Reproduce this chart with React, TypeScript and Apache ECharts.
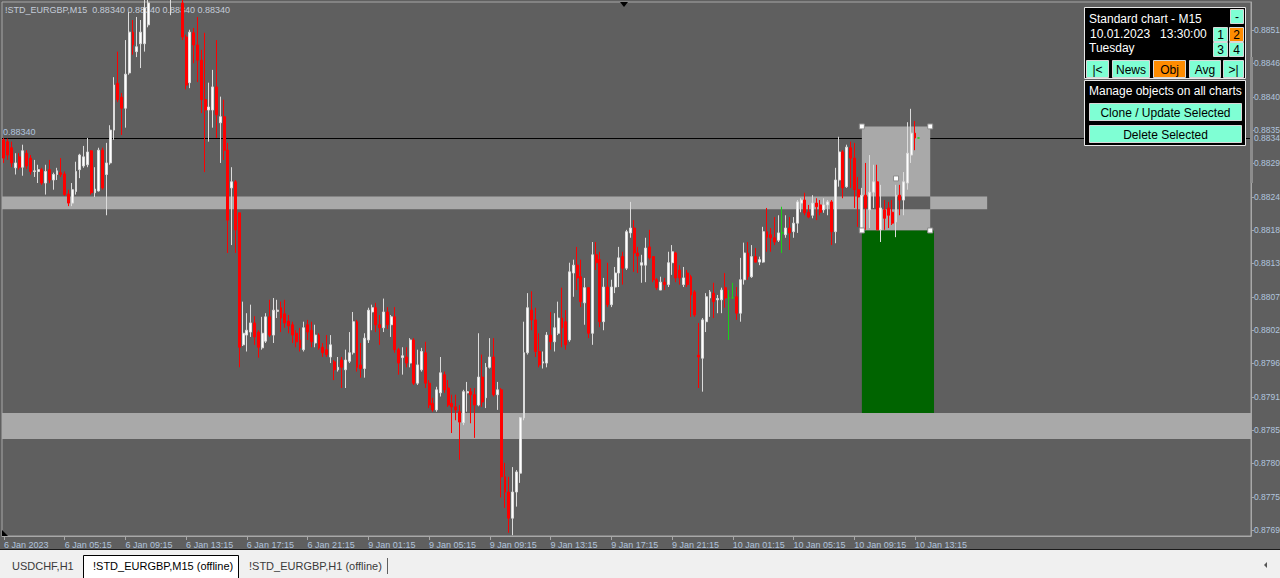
import React, { useEffect, useRef } from "react";
import * as echarts from "echarts";

// ---- data: prices x 100000 ----
const OPEN = [
  88337,88334,88324,88291,88309,88292,88315,88307,88285,88285,
  88288,88266,88288,88271,88280,88283,88281,88248,88233,88252,
  88288,88294,88296,88319,88250,88253,88320,88280,88299,88353,
  88430,88407,88389,88447,88514,88482,88495,88495,88526,88570,
  88600,88630,88610,88590,88575,88600,88580,88562,88506,88431,
  88513,88493,88468,88403,88386,88386,88424,88365,88375,88320,
  88258,88268,88217,88000,88016,88021,88036,88021,87995,88006,
  88046,88016,88055,88061,88051,88039,88033,88019,88008,87992,
  88033,88024,88003,88016,87996,87992,87980,87972,87959,87975,
  87959,87973,87987,88038,87967,87961,88008,88054,88061,88033,
  88028,88054,88033,88046,87992,87979,87980,87970,88008,87937,
  87959,87987,87937,87904,87893,87921,87951,87929,87904,87898,
  87890,87872,87921,87923,87918,87901,87947,87913,87963,87980,
  87918,87926,87783,87758,87715,87758,87789,87880,87987,88057,
  88041,87989,87970,87970,88016,88005,88019,88044,88038,88008,
  88118,88131,88112,88069,88094,88019,88148,88140,88038,88095,
  88066,88095,88118,88145,88126,88184,88192,88151,88131,88131,
  88161,88145,88107,88090,88103,88099,88135,88151,88123,88099,
  88118,88112,88087,87983,87978,88038,88077,88085,88074,88074,
  88094,88077,88077,88079,88052,88107,88151,88112,88145,88136,
  88136,88186,88181,88176,88172,88184,88181,88192,88186,88200,
  88233,88238,88218,88213,88233,88230,88222,88230,88235,88186,
  88271,88317,88260,88324,88307,88255,88192,88246,88222,88251,
  88268,88189,88222,88225,88218,88202,88246,88238,88266,88312,
  88348,88340,
];
const HIGH = [
  88340,88339,88334,88315,88315,88329,88320,88312,88304,88296,
  88291,88296,88304,88283,88291,88307,88285,88255,88266,88301,
  88314,88327,88340,88320,88292,88324,88324,88332,88361,88440,
  88482,88414,88501,88547,88534,88539,88534,88570,88585,88610,
  88640,88650,88625,88620,88620,88615,88600,88575,88510,88518,
  88521,88539,88485,88513,88431,88452,88501,88408,88403,88332,
  88292,88271,88217,88071,88052,88066,88047,88024,88046,88052,
  88074,88077,88074,88071,88074,88049,88038,88024,88028,88038,
  88041,88038,88033,88019,88003,88016,88016,87975,87980,87980,
  87992,88021,88054,88041,88003,88019,88061,88066,88069,88049,
  88076,88062,88049,88062,87995,87996,87996,88011,88011,87992,
  87995,88005,87942,87913,87931,87980,87956,87942,87918,87918,
  87901,87926,87939,87929,87929,88019,87984,87970,88011,88011,
  87939,87929,87806,87783,87799,87794,87881,88038,88085,88088,
  88061,88019,87989,88021,88054,88052,88071,88094,88057,88135,
  88140,88161,88140,88110,88095,88169,88169,88153,88110,88135,
  88107,88128,88161,88153,88189,88235,88205,88161,88148,88176,
  88189,88145,88110,88112,88110,88153,88164,88153,88131,88128,
  88123,88115,88090,88036,88044,88085,88090,88102,88082,88094,
  88118,88090,88102,88095,88143,88168,88169,88164,88159,88145,
  88194,88225,88192,88210,88213,88227,88213,88210,88210,88238,
  88241,88250,88230,88246,88241,88238,88241,88238,88238,88291,
  88342,88320,88329,88334,88332,88276,88258,88299,88312,88296,
  88296,88263,88238,88235,88238,88263,88263,88284,88366,88388,
  88368,88340,
];
const LOW = [
  88299,88304,88292,88280,88288,88278,88289,88280,88276,88266,
  88263,88247,88266,88255,88271,88276,88245,88228,88228,88247,
  88274,88291,88292,88247,88243,88252,88255,88213,88296,88337,
  88399,88345,88357,88444,88477,88473,88455,88482,88522,88568,
  88590,88600,88580,88575,88542,88570,88568,88501,88420,88422,
  88463,88432,88381,88284,88334,88357,88340,88299,88304,88151,
  88164,88151,87963,87998,87989,88013,88000,87979,87992,88003,
  88013,88003,88044,88021,88028,88019,88003,87996,87989,87989,
  88008,87996,87996,87992,87980,87980,87970,87942,87956,87929,
  87929,87970,87984,87956,87946,87946,88003,88024,88021,88000,
  88021,88026,88013,87987,87951,87951,87963,87963,87934,87934,
  87956,87929,87896,87890,87890,87915,87921,87898,87855,87876,
  87811,87868,87890,87871,87847,87899,87898,87896,87961,87915,
  87893,87749,87732,87691,87687,87734,87773,87876,87984,88024,
  87980,87963,87961,87963,87992,87989,88016,87996,87992,88005,
  88079,88090,88062,88033,88011,88000,88123,88029,88024,88062,
  88062,88085,88095,88099,88123,88176,88120,88118,88102,88103,
  88140,88103,88090,88090,88090,88095,88115,88103,88099,88095,
  88095,88046,88046,87929,87923,88021,88046,88044,88052,88052,
  88061,88008,88077,88041,88038,88099,88107,88110,88135,88131,
  88135,88153,88153,88164,88169,88151,88176,88156,88176,88184,
  88218,88213,88208,88208,88205,88213,88217,88213,88164,88167,
  88260,88241,88258,88258,88225,88194,88189,88189,88192,88225,
  88189,88169,88189,88192,88197,88177,88213,88213,88255,88299,
  88320,88340,
];
const CLOSE = [
  88307,88312,88299,88299,88292,88319,88294,88285,88286,88288,
  88266,88285,88271,88280,88286,88280,88247,88233,88255,88285,
  88312,88309,88317,88250,88256,88320,88258,88299,88353,88427,
  88403,88389,88445,88514,88493,88490,88514,88554,88562,88600,
  88630,88610,88590,88600,88600,88580,88575,88506,88427,88514,
  88493,88468,88403,88386,88391,88424,88378,88375,88320,88205,
  88268,88189,87996,88019,88024,88036,88013,87996,88019,88046,
  88016,88057,88057,88044,88036,88031,88016,88005,87995,88028,
  88021,88005,88016,87995,87987,87984,88000,87959,87963,87963,
  87975,87987,88038,87963,87961,88011,88057,88061,88033,88028,
  88054,88033,88046,87992,87970,87982,87970,88008,87937,87967,
  87989,87937,87901,87893,87926,87954,87926,87901,87898,87893,
  87873,87923,87923,87918,87901,87947,87906,87963,87980,87918,
  87926,87783,87758,87715,87758,87791,87880,87987,88061,88041,
  87989,87967,87972,88016,88005,88028,88044,88028,88000,88120,
  88131,88110,88071,88094,88019,88148,88135,88038,88095,88066,
  88095,88118,88143,88126,88186,88192,88151,88146,88135,88159,
  88143,88107,88094,88103,88099,88135,88153,88110,88110,88110,
  88099,88082,88049,87980,88041,88079,88087,88071,88076,88090,
  88077,88077,88077,88052,88107,88151,88112,88145,88136,88140,
  88186,88177,88176,88169,88184,88184,88192,88184,88200,88235,
  88238,88217,88210,88233,88227,88218,88230,88235,88186,88271,
  88317,88258,88325,88307,88255,88243,88246,88225,88251,88268,
  88189,88225,88208,88213,88200,88246,88238,88268,88315,88348,
  88340,88340,
];
const PRICE_SCALE = 100000;

// trading sessions (M15 bars): day label, first quarter-hour of the day, bar count
const SESSIONS = [
  { day: "6 Jan", startQuarter: 5, count: 91 },
  { day: "9 Jan", startQuarter: 0, count: 96 },
  { day: "10 Jan", startQuarter: 0, count: 55 },
];
const FIRST_LABEL = "6 Jan 2023";
const EMPTY_BARS = 87;
const LABEL_EVERY = 16;

// price scale
const Y_MIN = 0.876857;
const Y_MAX = 0.885636;
const Y_TICKS = [
  0.885174, 0.884626, 0.884078, 0.88353, 0.882982, 0.882434, 0.881886, 0.881338,
  0.88079, 0.880242, 0.879694, 0.879146, 0.878598, 0.87805, 0.877502, 0.876954,
];

// chart objects: [fromBar, toBar, lowPrice, highPrice]
const HLINE_PRICE = 0.8834;
const BAND_UPPER = [-1, 259, 0.88223, 0.88244];
const BAND_LOWER = [-1, 340, 0.87845, 0.87888];
const SELECT_BOX = [226, 244, 0.88188, 0.88359];
const GREEN_BOX = [226, 245, 0.87888, 0.88188];

const BG = "#5f5f5f";
const OBJ_GRAY = "#a9a9a9";
const AXIS_TEXT = "#b0c4de";
const FRAME = "#a8a8a8";
const FONT = "'Liberation Sans', Arial, sans-serif";
const AQUA = "#7fffd4";
const ORANGE = "#ff8c00";

function buildCategories(): string[] {
  const out: string[] = [];
  SESSIONS.forEach((s) => {
    for (let k = 0; k < s.count; k++) {
      const q = s.startQuarter + k;
      const hh = String(Math.floor(q / 4)).padStart(2, "0");
      const mm = String((q % 4) * 15).padStart(2, "0");
      out.push(`${s.day} ${hh}:${mm}`);
    }
  });
  out[0] = FIRST_LABEL;
  for (let k = 0; k < EMPTY_BARS; k++) out.push("");
  return out;
}

function txt(x: number, y: number, text: string, o: any = {}) {
  return {
    type: "text",
    x,
    y,
    z: o.z ?? 100,
    silent: true,
    style: {
      text,
      fill: o.fill ?? "#ffffff",
      font: o.font ?? `12px ${FONT}`,
      align: o.align ?? "left",
      textAlign: o.align ?? "left",
      verticalAlign: "middle",
      textVerticalAlign: "middle",
    },
  };
}

function btn(x: number, y: number, w: number, h: number, label: string, fill: string) {
  return [
    {
      type: "rect",
      z: 100,
      silent: true,
      shape: { x: x + 0.5, y: y + 0.5, width: w, height: h },
      style: { fill, stroke: "#d8d8d8", lineWidth: 1 },
    },
    txt(x + w / 2 + 0.5, y + h / 2 + 1, label, { fill: "#000000", align: "center" }),
  ];
}

export default function App() {
  const ref = useRef<HTMLDivElement>(null);

  useEffect(() => {
    if (!ref.current) return;
    const chart = echarts.init(ref.current, undefined, { renderer: "svg" });
    const categories = buildCategories();
    const candles = OPEN.map((o, i) => [
      o / PRICE_SCALE,
      CLOSE[i] / PRICE_SCALE,
      LOW[i] / PRICE_SCALE,
      HIGH[i] / PRICE_SCALE,
    ]);
    const rects = [BAND_UPPER, BAND_LOWER, SELECT_BOX, GREEN_BOX, [SELECT_BOX[0], SELECT_BOX[1], BAND_UPPER[2], BAND_UPPER[3]]];
    const rectColors = [OBJ_GRAY, OBJ_GRAY, OBJ_GRAY, "#006400", BG];
    const midBar = (SELECT_BOX[0] + SELECT_BOX[1]) / 2;
    const handles = [
      [SELECT_BOX[0], SELECT_BOX[3]],
      [SELECT_BOX[1], SELECT_BOX[3]],
      [SELECT_BOX[0], SELECT_BOX[2]],
      [SELECT_BOX[1], SELECT_BOX[2]],
      [midBar, (SELECT_BOX[2] + SELECT_BOX[3]) / 2],
    ];
    const showLabel = (index: number) => index % LABEL_EVERY === 0 && index < OPEN.length;

    const graphic: any[] = [
      // header
      txt(5, 10, "!STD_EURGBP,M15  0.88340 0.88340 0.88340 0.88340", {
        fill: "#c4ccd8",
        font: `9px ${FONT}`,
        z: 1,
      }),
      // chart shift marker
      { type: "polygon", z: 100, silent: true, shape: { points: [[620, 2], [628, 2], [624, 7]] }, style: { fill: "#000" } },
      { type: "polygon", z: 100, silent: true, shape: { points: [[2, 530], [2, 536], [8, 536]] }, style: { fill: "#000" } },
      // right scale highlight
      { type: "rect", z: 3, silent: true, shape: { x: 1250, y: 57, width: 3, height: 126 }, style: { fill: "#8c8c8c" } },
      // panel
      { type: "rect", z: 99, silent: true, shape: { x: 1084.5, y: 7.5, width: 161, height: 71 }, style: { fill: "#000", stroke: "#e8e8e8", lineWidth: 1 } },
      { type: "rect", z: 99, silent: true, shape: { x: 1084.5, y: 80.5, width: 161, height: 65 }, style: { fill: "#000", stroke: "#e8e8e8", lineWidth: 1 } },
      txt(1089, 19, "Standard chart - M15"),
      txt(1090, 34, "10.01.2023   13:30:00"),
      txt(1089, 48, "Tuesday"),
      txt(1089, 91, "Manage objects on all charts"),
      ...btn(1230, 9, 13, 14, "-", AQUA),
      ...btn(1213, 27, 14, 14, "1", AQUA),
      ...btn(1229, 27, 14, 14, "2", ORANGE),
      ...btn(1213, 42, 14, 14, "3", AQUA),
      ...btn(1229, 42, 14, 14, "4", AQUA),
      ...btn(1086, 60, 22, 17, "|<", AQUA),
      ...btn(1112, 60, 37, 17, "News", AQUA),
      ...btn(1153, 60, 32, 17, "Obj", ORANGE),
      ...btn(1189, 60, 31, 17, "Avg", AQUA),
      ...btn(1223, 60, 20, 17, ">|", AQUA),
      ...btn(1089, 103, 152, 17, "Clone / Update Selected", AQUA),
      ...btn(1089, 125, 152, 17, "Delete Selected", AQUA),
      // tab bar
      { type: "rect", z: 100, silent: true, shape: { x: 0, y: 549, width: 1280, height: 29 }, style: { fill: "#f0f0f0" } },
      { type: "line", z: 100, silent: true, shape: { x1: 0, y1: 549.5, x2: 1280, y2: 549.5 }, style: { stroke: "#1a1a1a", lineWidth: 1 } },
      { type: "rect", z: 101, silent: true, shape: { x: 83.5, y: 555.5, width: 155, height: 24 }, style: { fill: "#ffffff", stroke: "#000", lineWidth: 1 } },
      txt(12, 566, "USDCHF,H1", { fill: "#3a3a3a", font: `11px ${FONT}`, z: 102 }),
      txt(93, 566, "!STD_EURGBP,M15 (offline)", { fill: "#000", font: `11px ${FONT}`, z: 102 }),
      txt(249, 566, "!STD_EURGBP,H1 (offline)", { fill: "#3a3a3a", font: `11px ${FONT}`, z: 102 }),
      { type: "line", z: 102, silent: true, shape: { x1: 387.5, y1: 558, x2: 387.5, y2: 574 }, style: { stroke: "#606060", lineWidth: 1 } },
      { type: "polygon", z: 102, silent: true, shape: { points: [[1267, 562], [1267, 568], [1264, 565]] }, style: { fill: "#555" } },
    ];

    const option: any = {
      animation: false,
      backgroundColor: BG,
      grid: {
        left: 2,
        right: 29,
        top: 2,
        bottom: 42,
        show: true,
        borderColor: FRAME,
        borderWidth: 1,
        backgroundColor: "transparent",
        containLabel: false,
        outerBoundsMode: "none",
      },
      xAxis: {
        type: "category",
        data: categories,
        boundaryGap: true,
        axisLine: { show: true, lineStyle: { color: FRAME } },
        axisTick: {
          show: true,
          alignWithLabel: true,
          interval: showLabel,
          length: 4,
          lineStyle: { color: FRAME },
        },
        axisLabel: {
          show: true,
          interval: showLabel,
          align: "left",
          color: AXIS_TEXT,
          fontSize: 9,
          fontFamily: FONT,
          margin: 4,
        },
        splitLine: { show: false },
      },
      yAxis: {
        type: "value",
        position: "right",
        min: Y_MIN,
        max: Y_MAX,
        axisLine: { show: true, lineStyle: { color: FRAME } },
        axisTick: { show: true, customValues: Y_TICKS, length: 3, lineStyle: { color: FRAME } },
        axisLabel: {
          show: true,
          customValues: Y_TICKS,
          formatter: (v: number) => v.toFixed(6).slice(0, 6),
          color: AXIS_TEXT,
          fontSize: 8.5,
          fontFamily: FONT,
          margin: 3,
        },
        splitLine: { show: false },
      },
      series: [
        {
          type: "custom",
          z: 1,
          silent: true,
          clip: true,
          encode: { x: [0, 1], y: [2, 3] },
          data: rects,
          renderItem: (params: any, api: any) => {
            const x0 = api.value(0);
            const x1 = api.value(1);
            const lo = api.value(2);
            const hi = api.value(3);
            const p0 = api.coord([x0, hi]);
            const p1 = api.coord([x1, lo]);
            const cs = params.coordSys;
            const shape = echarts.graphic.clipRectByRect(
              { x: p0[0], y: p0[1], width: p1[0] - p0[0], height: p1[1] - p0[1] },
              { x: cs.x, y: cs.y, width: cs.width, height: cs.height }
            );
            if (!shape) return null;
            return { type: "rect", shape, style: { fill: rectColors[params.dataIndex] } };
          },
        },
        {
          type: "candlestick",
          z: 2,
          barWidth: 2.4,
          clip: true,
          data: candles,
          itemStyle: {
            color: "#ffffff",
            color0: "#ff0000",
            borderColor: "#dcdcdc",
            borderColor0: "#ff0000",
            borderColorDoji: "#19d219",
            borderWidth: 1,
          },
          markLine: {
            silent: true,
            z: 1,
            precision: 5,
            symbol: ["none", "none"],
            lineStyle: { color: "#000000", width: 1, type: "solid" },
            data: [
              {
                yAxis: HLINE_PRICE,
                label: {
                  show: true,
                  position: "insideStartTop",
                  formatter: HLINE_PRICE.toFixed(5),
                  color: AXIS_TEXT,
                  fontSize: 9,
                  fontFamily: FONT,
                  distance: [1, 2],
                },
              },
              {
                yAxis: HLINE_PRICE,
                label: {
                  show: true,
                  position: "end",
                  formatter: HLINE_PRICE.toFixed(4),
                  color: AXIS_TEXT,
                  fontSize: 8.5,
                  fontFamily: FONT,
                  distance: 3,
                },
              },
            ],
          },
        },
        {
          type: "scatter",
          z: 5,
          silent: true,
          symbol: "rect",
          symbolSize: 5,
          data: handles,
          itemStyle: { color: "#ffffff", borderColor: "#8a8a8a", borderWidth: 1, opacity: 1 },
        },
      ],
      graphic,
    };
    chart.setOption(option);
    return () => chart.dispose();
  }, []);

  return (
    <div
      ref={ref}
      style={{ position: "fixed", left: 0, top: 0, width: 1280, height: 578 }}
    />
  );
}
